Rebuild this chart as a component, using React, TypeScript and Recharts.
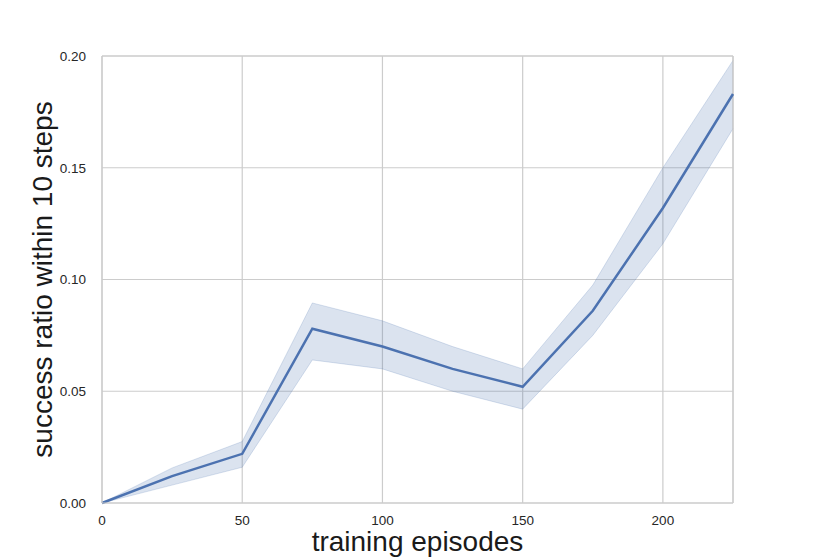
import React from "react";
import {
  ComposedChart,
  XAxis,
  YAxis,
  CartesianGrid,
  Area,
  Line,
  ReferenceLine,
} from "recharts";

const episodes = [0, 25, 50, 75, 100, 125, 150, 175, 200, 225];
const meanRatio = [0, 0.012, 0.022, 0.078, 0.07, 0.06, 0.052, 0.086, 0.132, 0.183];
const lowerRatio = [0, 0.008, 0.016, 0.064, 0.06, 0.05, 0.042, 0.075, 0.116, 0.1675];
const upperRatio = [0, 0.0157, 0.0275, 0.0895, 0.0815, 0.07, 0.06, 0.0975, 0.15, 0.198];
const xTicks = [0, 50, 100, 150, 200];
const yTicks = [0, 0.05, 0.1, 0.15, 0.2];

const data = episodes.map((ep, i) => ({
  episode: ep,
  mean: meanRatio[i],
  band: [lowerRatio[i], upperRatio[i]],
}));

const COLOR = "#4C72B0";
const GRID = "#cccccc";
const FONT = "'Liberation Sans', Arial, sans-serif";

export default function App() {
  return (
    <div style={{ position: "absolute", left: 0, top: 0, background: "#fff" }}>
      <ComposedChart
        width={814}
        height={560}
        data={data}
        margin={{ top: 56, right: 81, bottom: 0, left: 0 }}
        style={{ fontFamily: FONT }}
      >
        <CartesianGrid stroke={GRID} strokeWidth={1.2} />
        <XAxis
          dataKey="episode"
          type="number"
          domain={[0, 225]}
          ticks={xTicks}
          height={57}
          tickLine={false}
          axisLine={{ stroke: GRID, strokeWidth: 1.2 }}
          tick={{ fill: "#262626", fontSize: 13.5 }}
          tickMargin={6}
          label={{
            value: "training episodes",
            position: "insideBottom",
            offset: 9,
            style: { fontSize: 28, fill: "#1a1a1a" },
          }}
        />
        <YAxis
          type="number"
          domain={[0, 0.2]}
          ticks={yTicks}
          width={102}
          tickLine={false}
          axisLine={{ stroke: GRID, strokeWidth: 1.2 }}
          tick={{ fill: "#262626", fontSize: 13.5 }}
          tickMargin={10}
          tickFormatter={(v: number) => v.toFixed(2)}
          label={{
            value: "success ratio within 10 steps",
            angle: -90,
            position: "insideLeft",
            offset: 0,
            dx: 42,
            textAnchor: "middle",
            style: { fontSize: 28, fill: "#1a1a1a", textAnchor: "middle" },
          }}
        />
        <ReferenceLine x={225} stroke={GRID} strokeWidth={1.2} />
        <ReferenceLine y={0.2} stroke={GRID} strokeWidth={1.2} />
        <Area
          dataKey="band"
          type="linear"
          stroke={COLOR}
          strokeOpacity={0.2}
          strokeWidth={1}
          fill={COLOR}
          fillOpacity={0.2}
          isAnimationActive={false}
          dot={false}
          activeDot={false}
        />
        <Line
          dataKey="mean"
          type="linear"
          stroke={COLOR}
          strokeWidth={2.5}
          dot={false}
          activeDot={false}
          isAnimationActive={false}
        />
      </ComposedChart>
    </div>
  );
}
